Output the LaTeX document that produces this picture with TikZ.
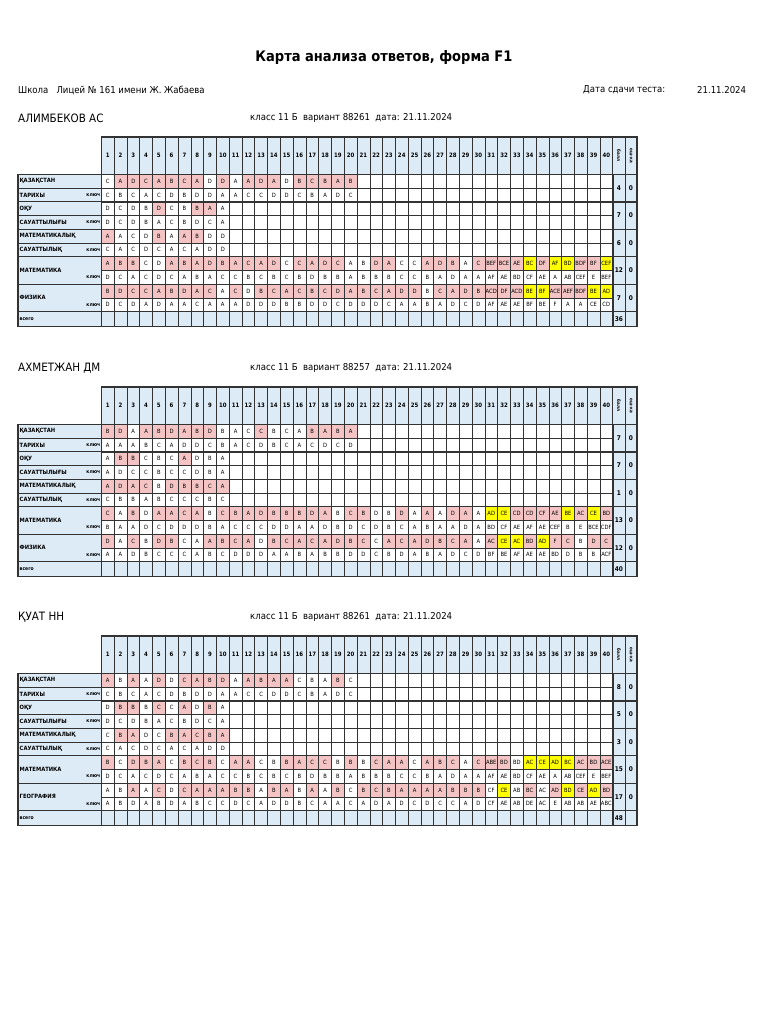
\documentclass[tikz,border=0pt]{standalone}
\usepackage{fontspec}
\setmainfont{DejaVu Sans Condensed}
\begin{document}
\definecolor{colw}{HTML}{FFFFFF}
\definecolor{colp}{HTML}{F4C4C4}
\definecolor{coly}{HTML}{FFFF00}
\definecolor{lblue}{HTML}{DDEBF7}
\definecolor{gridc}{HTML}{333333}
\def\cw{12.785}\def\rh{13.73}
\tikzset{cell/.style={minimum width=12.785pt,minimum height=13.73pt,inner sep=0pt,draw=gridc,line width=0.5pt,font=\fontsize{5.8}{6}\selectfont,fill=white},
 hcell/.style={cell,minimum height=37.3pt,fill=lblue,font=\bfseries\fontsize{6}{7}\selectfont},
 lab/.style={anchor=west,inner sep=0pt,font=\bfseries\fontsize{5.8}{6}\selectfont},
 score/.style={font=\bfseries\fontsize{6.5}{7}\selectfont}}
\newcommand\stud[3]{\foreach \c/\t [count=\i] in {#3}{\node[cell,fill=col\c] at ({101.3+(\i-0.5)*\cw},{#1+174.3+(#2+0.5)*\rh}) {\t};}}
\newcommand\keyrow[3]{\edef\mylist{#3}\foreach \t [count=\i] in \mylist {\node[cell] at ({101.3+(\i-0.5)*\cw},{#1+174.3+(#2+0.5)*\rh}) {\t};}}
\newcommand\labtwo[4]{\fill[lblue] (18,{#1+174.3+#2*\rh}) rectangle (101.3,{#1+174.3+(#2+2)*\rh});
 \draw[gridc,line width=0.4pt] (18,{#1+174.3+(#2+1)*\rh}) -- (101.3,{#1+174.3+(#2+1)*\rh});
 \node[lab] at (19.5,{#1+174.3+(#2+0.5)*\rh}) {#3};
 \node[lab] at (19.5,{#1+174.3+(#2+1.5)*\rh}) {#4};
 \node[anchor=east,inner sep=0pt,font=\bfseries\fontsize{5}{6}\selectfont] at (100.5,{#1+174.3+(#2+1.5)*\rh}) {ключ};}
\newcommand\labone[3]{\fill[lblue] (18,{#1+174.3+#2*\rh}) rectangle (101.3,{#1+174.3+(#2+2)*\rh});
 \node[lab] at (19.5,{#1+174.3+(#2+1)*\rh}) {#3};
 \node[anchor=east,inner sep=0pt,font=\bfseries\fontsize{5}{6}\selectfont] at (100.5,{#1+174.3+(#2+1.5)*\rh}) {ключ};}
\newcommand\scorepair[3]{\node[score,draw=gridc,fill=lblue,minimum width=12.3pt,minimum height=27.46pt,inner sep=0pt] at (618.85,{#1+174.3+(#2+1)*\rh}) {#3};
 \node[score,draw=gridc,fill=lblue,minimum width=11.7pt,minimum height=27.46pt,inner sep=0pt] at (631.0,{#1+174.3+(#2+1)*\rh}) {0};}
\newcommand\tblframe[4]{%
 \node[anchor=west,inner sep=0pt,font=\fontsize{11.5}{12}\selectfont] at (18,{#1+118}) {#2};
 \node[anchor=west,inner sep=0pt,font=\fontsize{9.5}{10}\selectfont] at (250,{#1+118}) {класс 11 Б\ \ вариант #3\ \ дата: 21.11.2024};
 \foreach \i in {1,...,40}{\node[hcell] at ({101.3+(\i-0.5)*\cw},{#1+155.65}) {\i};
   \foreach \r in {0,...,9}{\node[cell] at ({101.3+(\i-0.5)*\cw},{#1+174.3+(\r+0.5)*\rh}) {};}
   \node[cell,fill=lblue,minimum height=15pt] at ({101.3+(\i-0.5)*\cw},{#1+319.1}) {};}
 \node[hcell,minimum width=12.3pt] at (618.85,{#1+155.65}) {\rotatebox{-90}{\fontsize{4.5}{5}\selectfont балл}};
 \node[hcell,minimum width=11.7pt,anchor=north] at (631.0,{#1+137}) {\rotatebox{-90}{\fontsize{4.5}{5}\selectfont ош-ка}};
 \node[cell,fill=lblue,minimum height=15pt,minimum width=83.3pt] at (59.65,{#1+319.1}) {};
 \node[lab] at (19.5,{#1+319.1}) {\fontsize{5}{6}\selectfont всего};
 \node[score,draw=gridc,fill=lblue,minimum width=12.3pt,minimum height=15pt,inner sep=0pt] at (618.85,{#1+319.1}) {#4};
 \node[draw=gridc,fill=lblue,minimum width=11.7pt,minimum height=15pt,inner sep=0pt] at (631.0,{#1+319.1}) {};}
\newcommand\tblborders[1]{\foreach \r in {0,2,4,6,8,10}{\draw[gridc,line width=1.1pt] (18,{#1+174.3+\r*\rh}) -- (637,{#1+174.3+\r*\rh});}
 \draw[gridc,line width=1.1pt] (18,{#1+174.3}) rectangle (637,{#1+326.6});
 \draw[gridc,line width=1.1pt] (101.3,{#1+137}) rectangle (637,{#1+326.6});
 \draw[gridc,line width=1.1pt] (101.3,{#1+174.3}) -- (101.3,{#1+326.6});
 \draw[gridc,line width=1.1pt] (612.7,{#1+137}) -- (612.7,{#1+326.6});}
\def\keyA{C,B,C,A,C,D,B,D,D,A,A,C,C,D,D,C,B,A,D,C}
\def\keyB{D,C,D,B,A,C,B,D,C,A}
\def\keyC{C,A,C,D,C,A,C,A,D,D}
\def\keyD{D,C,A,C,D,C,A,B,A,C,C,B,C,B,C,B,D,B,B,A,B,B,B,C,C,B,A,D,A,A,AF,AE,BD,CF,AE,A,AB,CEF,E,BEF}
\begin{tikzpicture}[x=1pt,y=-1pt]
\useasboundingbox (0,0) rectangle (768,1024);
\node[font=\bfseries\fontsize{14.5}{16}\selectfont] (title) at (384,58) {Карта анализа ответов, форма F1};
\node[anchor=west,inner sep=0pt,font=\fontsize{9.5}{10}\selectfont] (school) at (18,90) {Школа\ \ \ Лицей № 161 имени Ж. Жабаева};
\node[anchor=west,inner sep=0pt,font=\fontsize{9.5}{10}\selectfont] (dt) at (583,90) {Дата сдачи теста:};
\node[anchor=west,inner sep=0pt,font=\fontsize{9.5}{10}\selectfont] (dv) at (697,90) {21.11.2024};
% ---------- table 1
\tblframe{0}{АЛИМБЕКОВ АС}{88261}{36}
\labtwo{0}{0}{ҚАЗАҚСТАН}{ТАРИХЫ}
\labtwo{0}{2}{ОҚУ}{САУАТТЫЛЫҒЫ}
\labtwo{0}{4}{МАТЕМАТИКАЛЫҚ}{САУАТТЫЛЫҚ}
\labone{0}{6}{МАТЕМАТИКА}
\labone{0}{8}{ФИЗИКА}
\stud{0}{0}{w/C,p/A,p/D,p/C,p/A,p/B,p/C,p/A,w/D,p/D,w/A,p/A,p/D,p/A,w/D,p/B,p/C,p/B,p/A,p/B}
\keyrow{0}{1}{\keyA}
\stud{0}{2}{w/D,w/C,w/D,w/B,p/D,w/C,w/B,p/B,p/A,w/A}
\keyrow{0}{3}{\keyB}
\stud{0}{4}{p/A,w/A,w/C,w/D,p/B,w/A,p/A,p/B,w/D,w/D}
\keyrow{0}{5}{\keyC}
\stud{0}{6}{p/A,p/B,p/B,w/C,w/D,p/A,p/B,p/A,p/D,p/B,p/A,p/C,p/A,p/D,w/C,p/C,p/A,p/D,p/C,w/A,w/B,p/D,p/A,w/C,w/C,p/A,p/D,p/B,w/A,p/C,p/BEF,p/BCE,p/AE,y/BC,p/DF,y/AF,y/BD,p/BDF,p/BF,y/CEF}
\keyrow{0}{7}{\keyD}
\stud{0}{8}{p/B,p/D,p/C,p/C,p/A,p/B,p/D,p/A,p/C,w/A,p/C,w/D,p/B,p/C,p/A,p/C,p/B,p/C,p/D,p/A,p/B,p/C,p/A,p/D,p/D,w/B,p/C,p/A,p/D,p/B,p/ACD,p/DF,p/ACD,y/BE,y/BF,p/ACE,p/AEF,p/BDF,y/BE,y/AD}
\keyrow{0}{9}{D,C,D,A,D,A,A,C,A,A,A,D,D,D,B,B,D,D,C,D,D,D,C,A,A,B,A,D,C,D,AF,AE,AE,BF,BE,F,A,A,CE,CD}
\scorepair{0}{0}{4}\scorepair{0}{2}{7}\scorepair{0}{4}{6}\scorepair{0}{6}{12}\scorepair{0}{8}{7}
\tblborders{0}
% ---------- table 2
\tblframe{250}{АХМЕТЖАН ДМ}{88257}{40}
\labtwo{250}{0}{ҚАЗАҚСТАН}{ТАРИХЫ}
\labtwo{250}{2}{ОҚУ}{САУАТТЫЛЫҒЫ}
\labtwo{250}{4}{МАТЕМАТИКАЛЫҚ}{САУАТТЫЛЫҚ}
\labone{250}{6}{МАТЕМАТИКА}
\labone{250}{8}{ФИЗИКА}
\stud{250}{0}{p/B,p/D,w/A,p/A,p/B,p/D,p/A,p/B,p/D,w/B,w/A,w/C,p/C,w/B,w/C,w/A,p/B,p/A,p/B,p/A}
\keyrow{250}{1}{A,A,A,B,C,A,D,D,C,B,A,C,D,B,C,A,C,D,C,D}
\stud{250}{2}{w/A,p/B,p/B,w/C,w/B,w/C,p/A,w/D,w/B,w/A}
\keyrow{250}{3}{A,D,C,C,B,C,C,D,B,A}
\stud{250}{4}{p/A,p/D,p/A,p/C,w/B,p/D,p/B,p/B,p/C,p/A}
\keyrow{250}{5}{C,B,B,A,B,C,C,C,B,C}
\stud{250}{6}{p/C,w/A,p/B,w/D,p/A,p/A,p/C,p/A,w/B,p/C,p/B,p/A,p/D,p/B,p/B,p/B,p/D,p/A,w/B,p/C,p/B,w/D,w/B,p/D,w/A,p/A,w/A,p/D,p/A,w/A,y/AD,y/CE,p/CD,p/CD,p/CF,p/AE,y/BE,p/AC,y/CE,p/BD}
\keyrow{250}{7}{B,A,A,D,C,D,D,D,B,A,C,C,C,D,D,A,A,D,B,D,C,D,B,C,A,B,A,A,D,A,BD,CF,AE,AF,AE,CEF,B,E,BCE,CDF}
\stud{250}{8}{p/D,w/A,p/C,w/B,p/D,p/B,w/C,w/A,p/A,p/B,p/C,p/A,w/D,p/B,p/C,p/A,p/C,p/A,p/D,p/B,p/C,w/C,p/A,p/C,p/A,p/D,p/B,p/C,p/A,w/A,p/AC,y/CE,y/AC,p/BD,y/AD,p/F,p/C,w/B,p/D,p/C}
\keyrow{250}{9}{A,A,D,B,C,C,C,A,B,C,D,D,D,A,A,B,A,B,B,D,D,C,B,D,A,B,A,D,C,D,BF,BE,AF,AE,AE,BD,D,B,B,ACF}
\scorepair{250}{0}{7}\scorepair{250}{2}{7}\scorepair{250}{4}{1}\scorepair{250}{6}{13}\scorepair{250}{8}{12}
\tblborders{250}
% ---------- table 3
\tblframe{499}{ҚУАТ НН}{88261}{48}
\labtwo{499}{0}{ҚАЗАҚСТАН}{ТАРИХЫ}
\labtwo{499}{2}{ОҚУ}{САУАТТЫЛЫҒЫ}
\labtwo{499}{4}{МАТЕМАТИКАЛЫҚ}{САУАТТЫЛЫҚ}
\labone{499}{6}{МАТЕМАТИКА}
\labone{499}{8}{ГЕОГРАФИЯ}
\stud{499}{0}{p/A,w/B,p/A,w/A,p/D,w/D,p/C,p/A,p/B,p/D,w/A,p/A,p/B,p/A,p/A,w/C,w/B,w/A,p/B,w/C}
\keyrow{499}{1}{\keyA}
\stud{499}{2}{w/D,p/B,p/B,w/B,p/C,w/C,p/A,w/D,p/B,w/A}
\keyrow{499}{3}{\keyB}
\stud{499}{4}{w/C,p/B,p/A,w/D,w/C,p/B,p/A,p/C,p/B,p/A}
\keyrow{499}{5}{\keyC}
\stud{499}{6}{p/B,w/C,p/D,p/B,p/A,w/C,p/B,p/C,p/B,w/C,p/A,p/A,w/C,w/B,p/B,p/A,p/C,p/C,w/B,p/B,w/B,p/C,p/A,p/A,w/C,p/A,p/B,p/C,w/A,p/C,p/ABE,p/BD,w/BD,y/AC,y/CE,y/AD,y/BC,p/AC,p/BD,p/ACE}
\keyrow{499}{7}{\keyD}
\stud{499}{8}{w/A,w/B,p/A,w/A,p/C,w/D,p/C,p/A,p/A,p/A,p/B,p/B,w/A,p/B,p/A,w/B,p/A,w/A,p/B,w/C,p/B,p/C,p/B,p/A,p/A,p/A,p/A,p/B,p/B,p/B,w/CF,y/CE,w/AB,p/BC,w/AC,p/AD,y/BD,p/CE,y/AD,p/BD}
\keyrow{499}{9}{A,B,D,A,B,D,A,B,C,C,D,C,A,D,D,B,C,A,A,C,A,D,A,D,C,D,C,C,A,D,CF,AE,AB,DE,AC,E,AB,AB,AE,ABC}
\scorepair{499}{0}{8}\scorepair{499}{2}{5}\scorepair{499}{4}{3}\scorepair{499}{6}{15}\scorepair{499}{8}{17}
\tblborders{499}
\end{tikzpicture}
\end{document}
